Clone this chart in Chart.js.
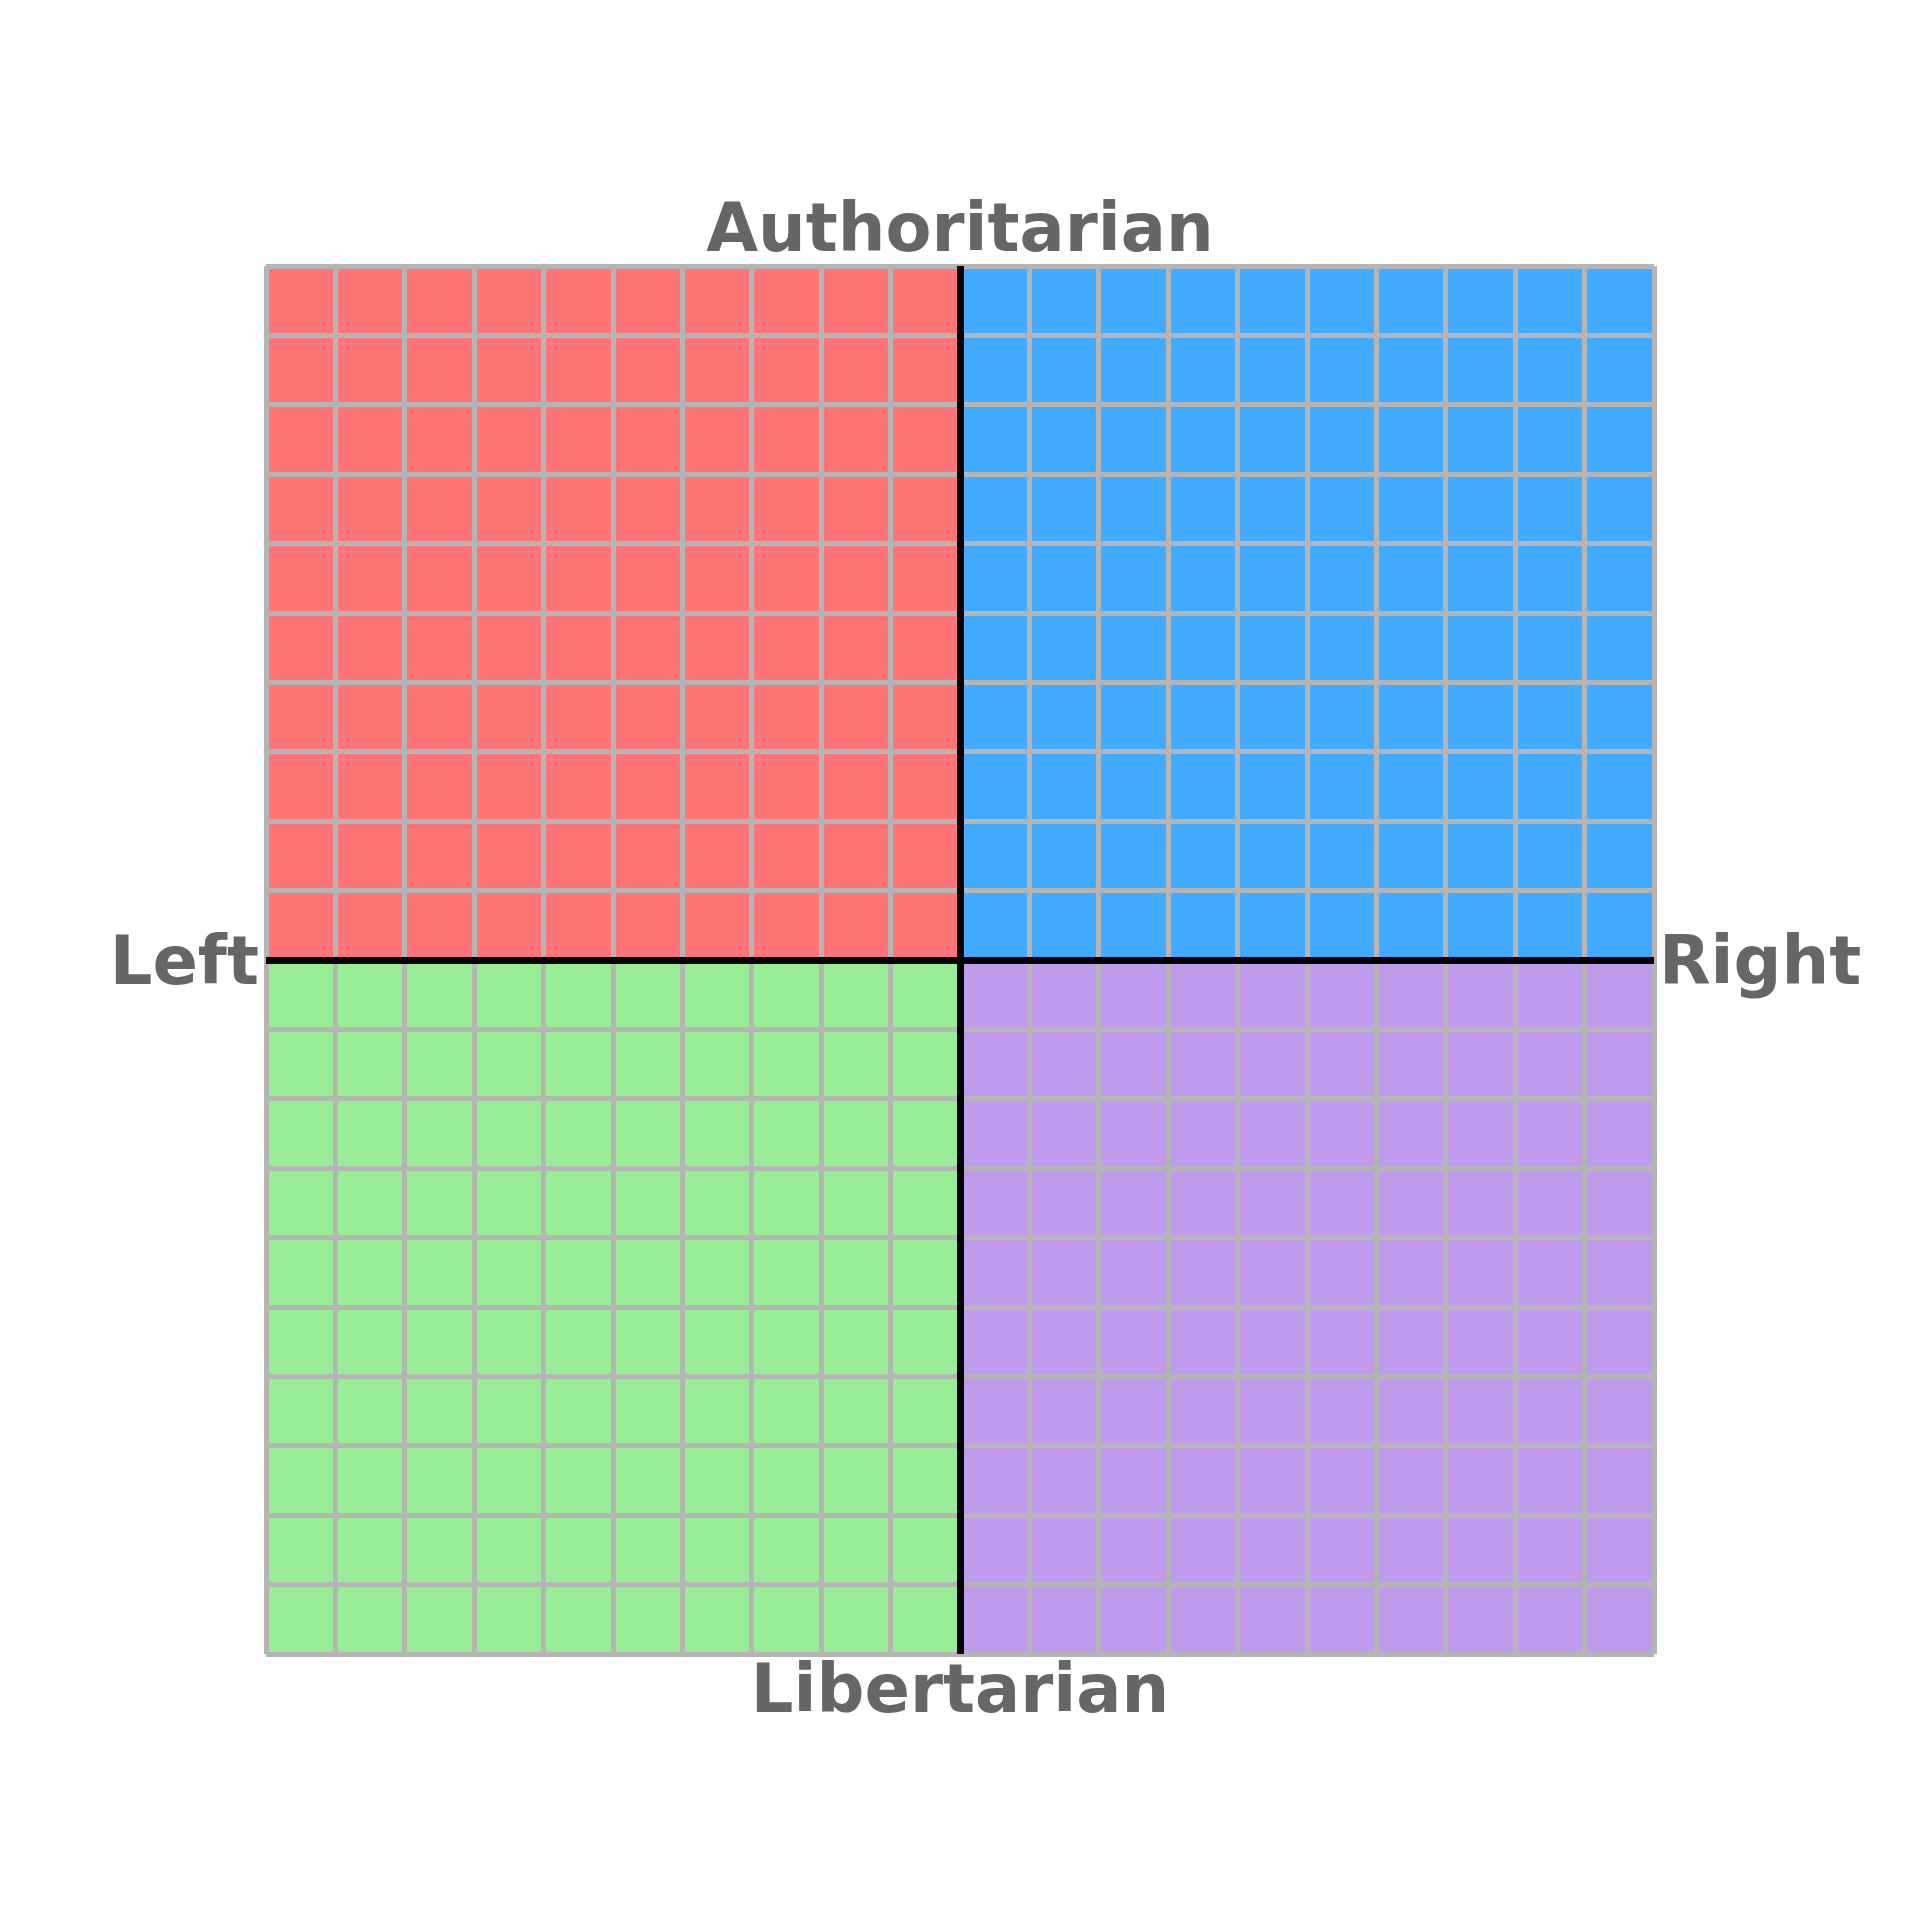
<!DOCTYPE html>
<html>
<head>
<meta charset="utf-8">
<script src="https://cdn.jsdelivr.net/npm/chart.js@4"></script>
<style>
  body { margin: 0; background: #fff; }
</style>
</head>
<body>
<canvas id="compass" width="1920" height="1920"></canvas>
<script>
let economic = ['Left', 'Right'];
let authoritarian = [[0, 10], [0, 10]];
let libertarian = [[-10, 0], [-10, 0]];
let authColors = ['#ff7575', '#42aaff'];
let libColors = ['#9aed97', '#c09aec'];
let topLabel = 'Authoritarian';
let bottomLabel = 'Libertarian';
let leftLabel = 'Left';
let rightLabel = 'Right';

let labelFont = { family: 'DejaVu Sans', size: 67, weight: 'bold', lineHeight: 1 };
let gridGray = '#b5b5b5';

// an axis that only carries the centre tick: a label and the black cross line
function centreAxis(axis, position, text, padding, shift, drawLine) {
    return {
        type: 'linear',
        axis: axis,
        position: position,
        min: -10,
        max: 10,
        offset: false,
        afterBuildTicks: s => { s.ticks = [{ value: 0 }]; },
        afterFit: s => {
            if (axis === 'x') s.height = 266;
            else s.width = 266;
        },
        ticks: {
            callback: () => text,
            font: labelFont,
            color: '#666666',
            padding: padding,
            labelOffset: shift,
            maxRotation: 0,
            autoSkip: false
        },
        grid: {
            display: drawLine,
            offset: false,
            drawTicks: false,
            color: '#000000',
            lineWidth: 7,
            z: 2
        },
        border: { display: false }
    };
}

// plain gray 20 x 20 grid
function gridAxis(axis, position) {
    return {
        type: 'linear',
        axis: axis,
        position: position,
        min: -10,
        max: 10,
        offset: false,
        ticks: { stepSize: 1, display: false },
        grid: { color: gridGray, lineWidth: 5, drawTicks: false, offset: false, z: 1 },
        border: { display: false }
    };
}

let compass = new Chart(document.getElementById('compass'), {
    type: 'bar',
    data: {
        labels: economic,
        datasets: [
            {
                label: 'Authoritarian',
                data: authoritarian,
                backgroundColor: authColors,
                borderWidth: 0,
                grouped: false,
                barPercentage: 1,
                categoryPercentage: 1
            },
            {
                label: 'Libertarian',
                data: libertarian,
                backgroundColor: libColors,
                borderWidth: 0,
                grouped: false,
                barPercentage: 1,
                categoryPercentage: 1
            }
        ]
    },
    options: {
        responsive: false,
        devicePixelRatio: 1,
        animation: false,
        layout: { padding: 0 },
        plugins: {
            legend: { display: false },
            tooltip: { enabled: false }
        },
        scales: {
            x: { type: 'category', display: false, offset: true },
            y: gridAxis('y', 'left'),
            xg: gridAxis('x', 'bottom'),
            top: centreAxis('x', 'top', topLabel, -1, 0, true),
            bottom: centreAxis('x', 'bottom', bottomLabel, 7, 0, false),
            left: centreAxis('y', 'left', leftLabel, 7, 7, true),
            right: centreAxis('y', 'right', rightLabel, 5, 7, false)
        }
    }
});
</script>
</body>
</html>
